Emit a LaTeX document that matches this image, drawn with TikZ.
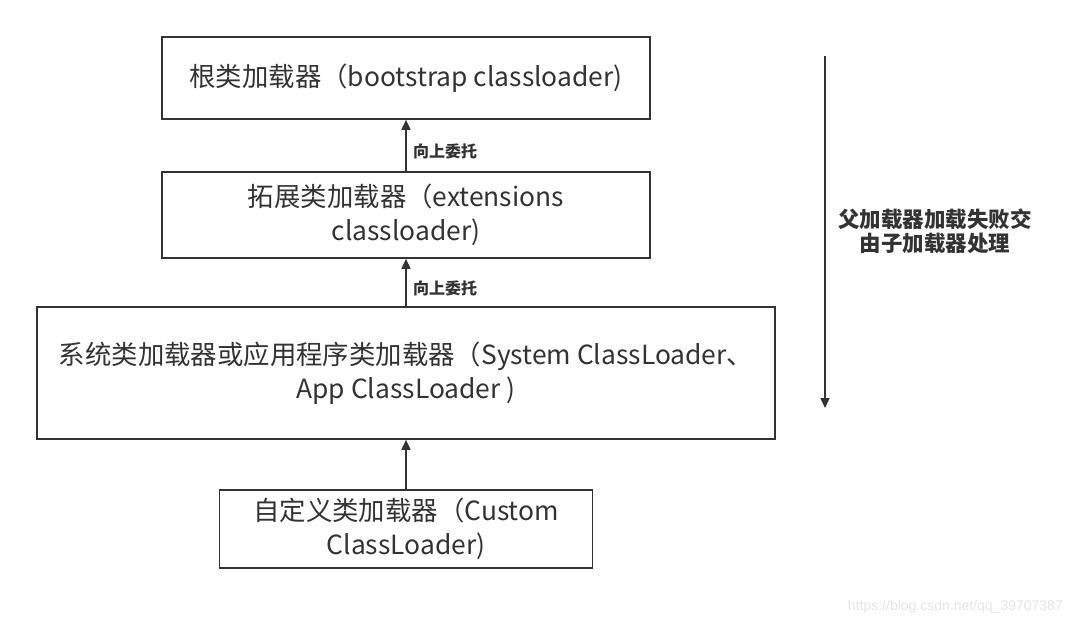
\documentclass[tikz,border=0pt]{standalone}
\usepackage{fontspec}
\setmainfont{Noto Sans CJK SC}
\newfontfamily\urlfont{Liberation Sans}
\usetikzlibrary{arrows.meta}
\definecolor{inkgray}{HTML}{333333}
\definecolor{markgray}{HTML}{E4E4E4}
\def\boxfont{\fontsize{26.4}{34}\selectfont}
\def\tagfont{\fontsize{16}{23}\selectfont\bfseries}
\def\colx{406}
\tikzstyle{arrow} = [line width=1.6pt,draw=inkgray,-{Triangle[length=10pt,width=9pt]}]

\begin{document}
\begin{tikzpicture}[x=1pt,y=-1pt]
    \tikzstyle{loader}=[rectangle,draw=inkgray,line width=1.6pt,text=inkgray,align=center,inner sep=0pt,font=\boxfont]
    \tikzstyle{tag}=[text=inkgray,font=\tagfont,inner sep=0pt,anchor=west]
    \tikzstyle{note}=[text=inkgray,font=\fontsize{21.5}{24}\selectfont\bfseries,align=center,inner sep=0pt]
    \useasboundingbox (0,0) rectangle (1073,625);

    % Draw the loader boxes
    \path node[loader,minimum width=488pt,minimum height=82pt] (boot) at (\colx,78)
        {根类加载器（bootstrap classloader)};
    \path node[loader,minimum width=488pt,minimum height=86pt] (ext) at (\colx,215)
        {拓展类加载器（extensions\\classloader)};
    \path node[loader,minimum width=738pt,minimum height=132pt] (app) at (\colx,373)
        {系统类加载器或应用程序类加载器（System ClassLoader、\\App ClassLoader )};
    \path node[loader,minimum width=373pt,minimum height=78pt] (custom) at (\colx,529)
        {自定义类加载器（Custom\\ClassLoader)};

    % Draw the delegation arrows
    \draw[arrow] (ext) -- (boot);
    \draw[arrow] (app) -- (ext);
    \draw[arrow] (custom) -- (app);
    \path node[tag] (up-1) at (413,151) {向上委托};
    \path node[tag] (up-2) at (413,288) {向上委托};

    % Draw the fallback arrow on the right
    \coordinate (down-top) at (825,56);
    \coordinate (down-end) at (825,408);
    \draw[arrow] (down-top) -- (down-end);
    \path node[note] (fallback) at (935,231) {父加载器加载失败交\\由子加载器处理};

    \path node[text=markgray,font=\urlfont\fontsize{14}{16}\selectfont,anchor=east,inner sep=0pt] (mark) at (1063,607)
        {https://blog.csdn.net/qq\_39707387};
\end{tikzpicture}
\end{document}
